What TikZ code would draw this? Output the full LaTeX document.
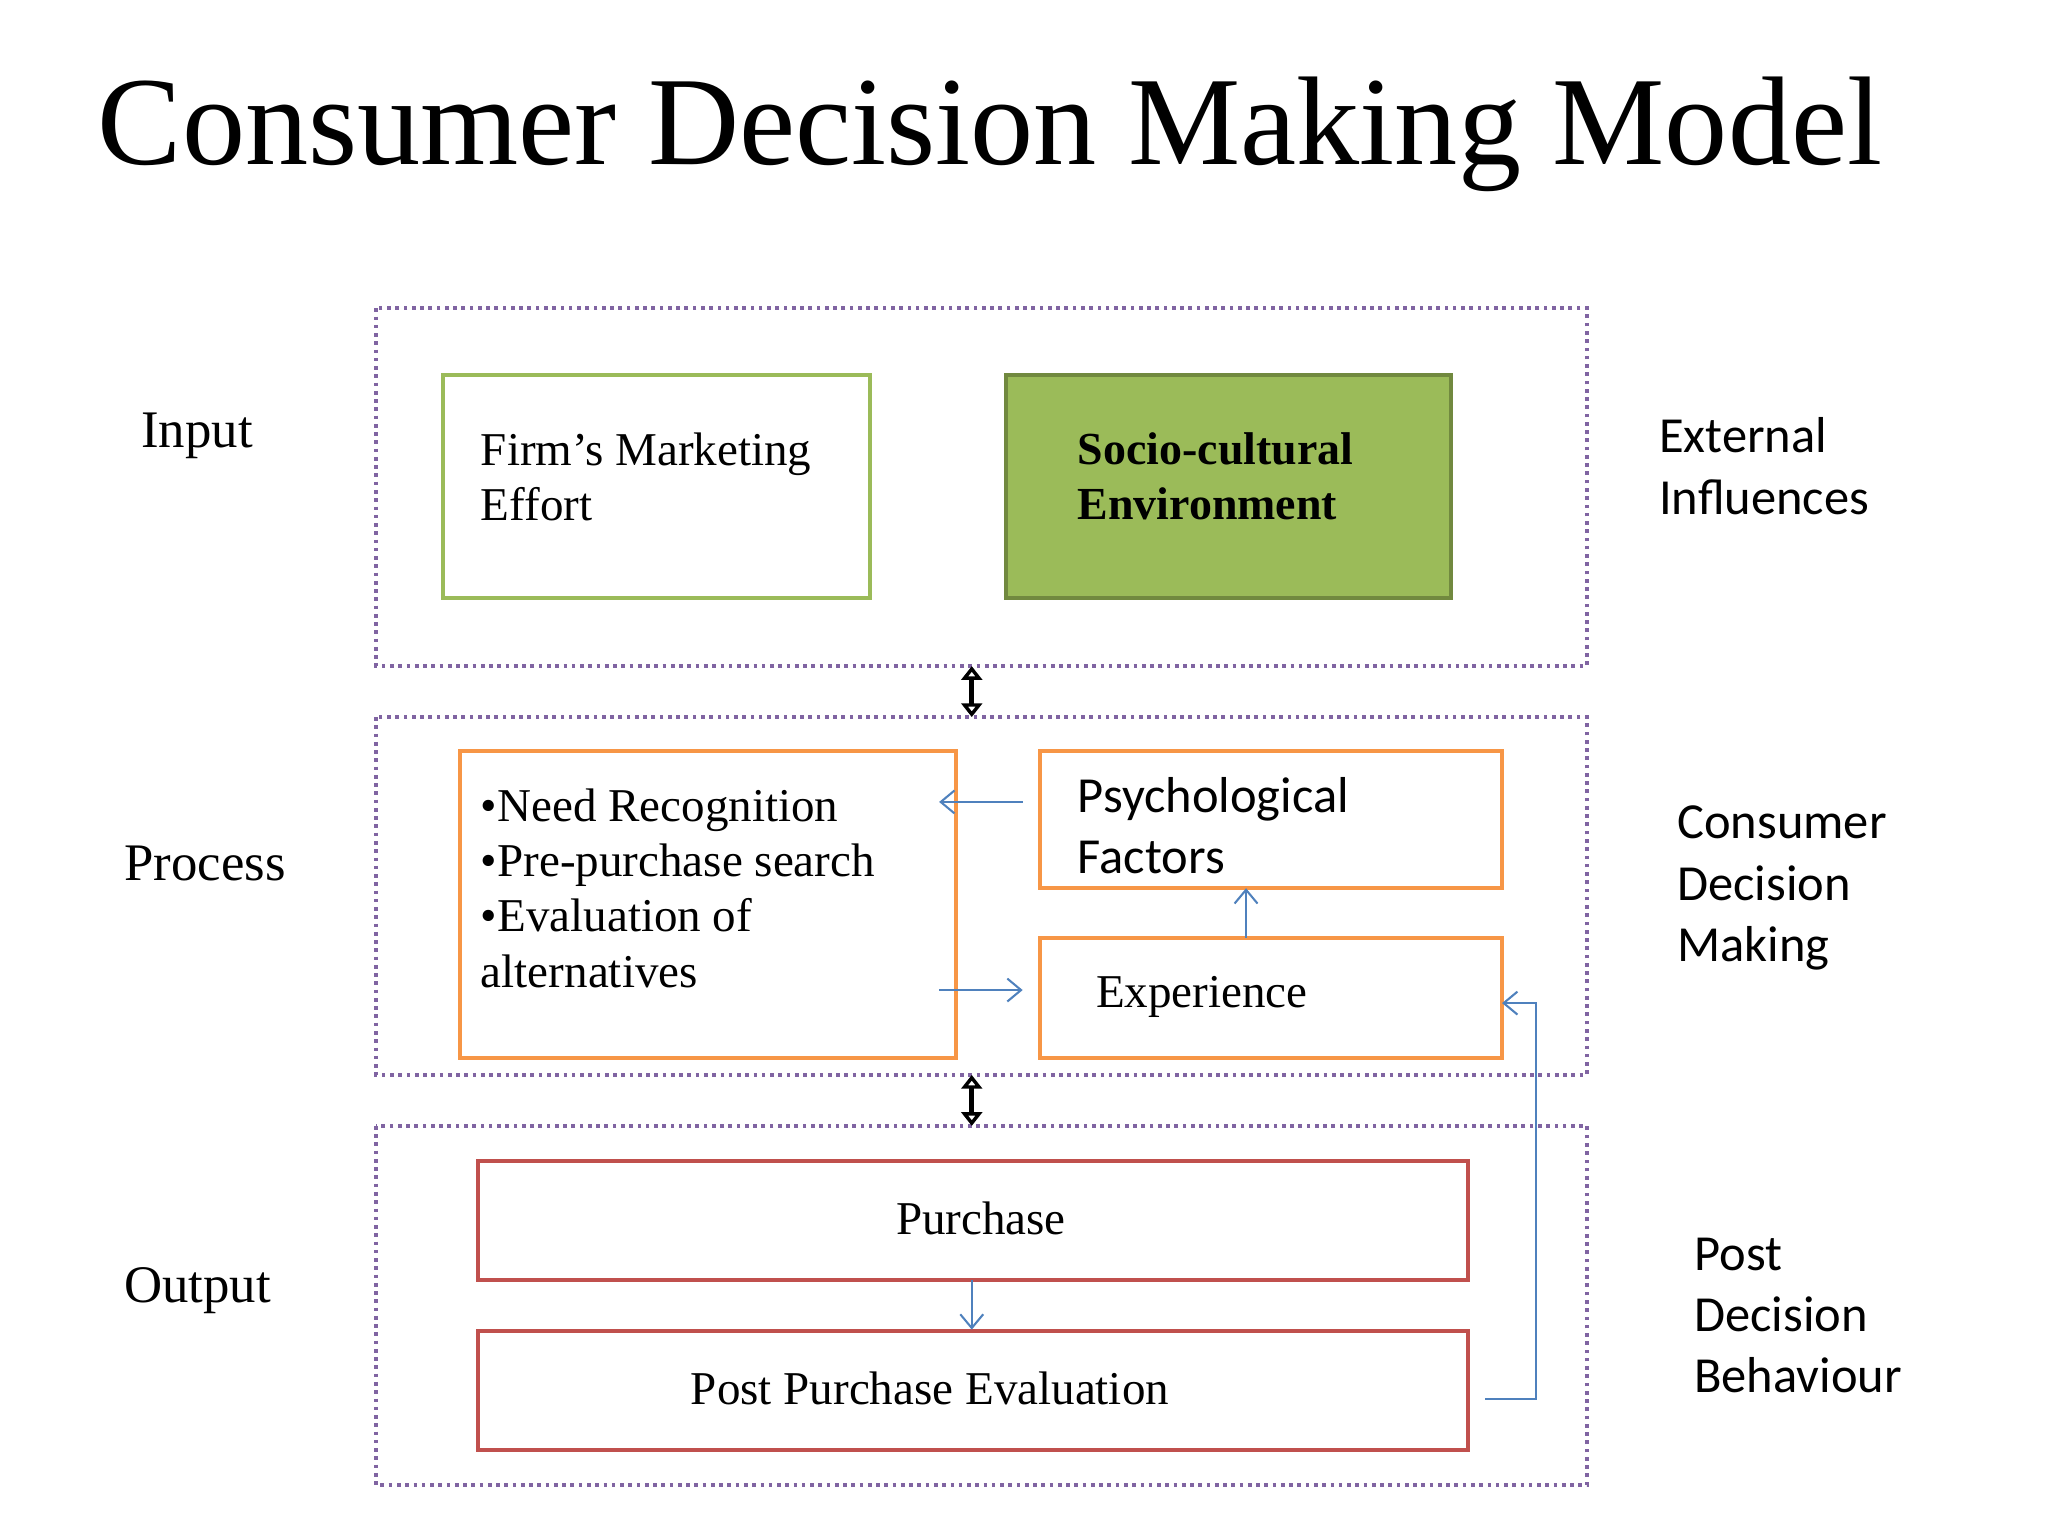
\documentclass[tikz,border=0pt]{standalone}
\usepackage{fontspec}
\setmainfont{Liberation Serif}
\newfontfamily\sansf{Carlito}
\usetikzlibrary{arrows.meta}
\definecolor{pur}{HTML}{8064A2}
\definecolor{grn}{HTML}{9BBB59}
\definecolor{dgrn}{HTML}{71893F}
\definecolor{org}{HTML}{F79646}
\definecolor{rd}{HTML}{C0504D}
\definecolor{blu}{HTML}{4F81BD}
\begin{document}
\begin{tikzpicture}[x=0.02cm,y=-0.02cm,
 grp/.style={draw=pur,line width=1.6pt,dotted},
 bx/.style={line width=1.8pt},
 txt/.style={font=\fontsize{20.5}{24}\selectfont,align=left,anchor=west},
 lab/.style={font=\fontsize{23}{24}\selectfont,anchor=west},
 slab/.style={font=\sansf\fontsize{22}{26.7}\selectfont,align=left,anchor=west},
 ba/.style={draw=blu,line width=0.9pt,-{Straight Barb[length=6pt,width=10pt]}},
 da/.style={draw=black,line width=2pt,{Triangle[open,length=6pt,width=9pt]}-{Triangle[open,length=6pt,width=9pt]}}]
\useasboundingbox (0,0) rectangle (1568,1176);
\node[font=\fontsize{55}{60}\selectfont] (title) at (758,103) {Consumer Decision Making Model};
% groups
\draw[grp] (288,236) rectangle (1215,510);
\draw[grp] (288,549) rectangle (1215,823);
\draw[grp] (288,862) rectangle (1215,1137);
% input
\draw[bx,draw=grn] (339,287) rectangle (666,458);
\node[txt] (firm) at (362,365) {Firm’s Marketing\\Effort};
\draw[bx,draw=dgrn,fill=grn] (770,287) rectangle (1111,458);
\node[txt,font=\bfseries\fontsize{20}{24}\selectfont] (socio) at (819,365) {Socio-cultural\\Environment};
% process
\draw[bx,draw=org] (352,575) rectangle (732,810);
\node[txt,anchor=north west] (need) at (362,598) {•Need Recognition\\•Pre-purchase search\\•Evaluation of\\alternatives};
\draw[bx,draw=org] (796,575) rectangle (1150,680);
\node[txt,font=\sansf\fontsize{22}{26.7}\selectfont] (psy) at (819,632) {Psychological\\Factors};
\draw[bx,draw=org] (796,718) rectangle (1150,810);
\node[txt] (exp) at (833,763) {Experience};
% output
\draw[bx,draw=rd] (366,889) rectangle (1124,980);
\node[font=\fontsize{20.5}{24}\selectfont] (pur) at (751,933) {Purchase};
\draw[bx,draw=rd] (366,1019) rectangle (1124,1110);
\node[font=\fontsize{20.5}{24}\selectfont] (ppe) at (712,1063) {Post Purchase Evaluation};
% labels
\node[lab] (in) at (102,334) {Input};
\node[lab] (pr) at (89,661) {Process};
\node[lab] (ou) at (89,988) {Output};
\node[slab] (ext) at (1264,357) {External\\Influences};
\node[slab] (cdm) at (1278,680) {Consumer\\Decision\\Making};
\node[slab] (pdb) at (1291,1007) {Post\\Decision\\Behaviour};
% arrows
\coordinate (a1) at (783,614); \coordinate (a2) at (719,614);
\coordinate (b1) at (719,758); \coordinate (b2) at (783,758);
\coordinate (c1) at (954,718); \coordinate (c2) at (954,680);
\coordinate (d1) at (744,980); \coordinate (d2) at (744,1018);
\coordinate (e1) at (1137,1071); \coordinate (e2) at (1176,1071);
\coordinate (e3) at (1176,768); \coordinate (e4) at (1150,768);
\draw[ba] (a1) -- (a2);
\draw[ba] (b1) -- (b2);
\draw[ba] (c1) -- (c2);
\draw[ba] (d1) -- (d2);
\draw[ba] (e1) -- (e2) -- (e3) -- (e4);
\coordinate (f1) at (744,510); \coordinate (f2) at (744,549);
\coordinate (g1) at (744,823); \coordinate (g2) at (744,862);
\draw[da] (f1) -- (f2);
\draw[da] (g1) -- (g2);
\end{tikzpicture}
\end{document}
